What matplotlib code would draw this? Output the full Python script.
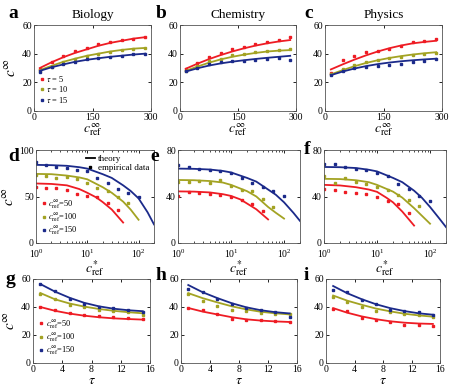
import numpy as np
import matplotlib
matplotlib.use("Agg")
import matplotlib.pyplot as plt
from matplotlib.lines import Line2D

plt.rcParams['font.family'] = ['Liberation Serif', 'DejaVu Serif']
plt.rcParams['mathtext.fontset'] = 'stix'

RED = '#ee1c24'
OLIVE = '#a3a323'
BLUE = '#1b2a8a'
colors = [RED, OLIVE, BLUE]

# %% row 1 data: c_inf vs c_ref_inf, tau = 5, 10, 15
cref = [15, 45, 75, 105, 135, 165, 195, 225, 255, 285]
taus = [5, 10, 15]

bio_pts = [[29, 34, 38.5, 42, 44, 46.5, 48, 49.5, 50.5, 51.5],
           [28, 31, 34, 36.5, 38.5, 40, 41.5, 42.5, 43.5, 44],
           [27, 31, 33, 34.5, 36, 37, 38, 38.5, 39.5, 40]]
bio_fit = [[30, 34, 37.5, 40.5, 43, 45.5, 47.5, 49, 50.5, 51.5],
           [28.5, 31.5, 34.3, 36.5, 38.5, 40, 41.5, 42.6, 43.5, 44],
           [28, 30.5, 32.5, 34.3, 35.7, 36.8, 37.8, 38.6, 39.4, 40]]

chem_pts = [[29.5, 33.5, 38, 40.7, 43, 44.8, 46.4, 48, 49.3, 51.4],
            [28, 31.5, 35, 36.5, 39, 40, 41, 42, 42.5, 43],
            [28, 30, 33, 34, 34.6, 35, 35.5, 36.6, 37, 35.5]]
chem_fit = [[29.5, 33, 36.2, 39, 41.5, 43.7, 45.6, 47.2, 48.5, 49.5],
            [28, 31, 33.7, 36, 37.8, 39.3, 40.5, 41.5, 42.1, 42.5],
            [27.5, 29.8, 31.7, 33.2, 34.4, 35.4, 36.3, 37.1, 37.8, 38.5]]

phys_pts = [[26.7, 35.8, 38.4, 41.2, 42, 43.6, 45.2, 48.2, 48.7, 50.1],
            [25.5, 29.5, 32, 34.5, 35.5, 37, 37.5, 39, 40, 40.5],
            [25, 28, 30, 31, 31.5, 32, 33, 34.5, 35, 36]]
phys_fit = [[29, 32.5, 35.8, 38.8, 41.5, 43.8, 45.7, 47.2, 48.2, 49],
            [25.5, 28.5, 31.2, 33.5, 35.4, 37, 38.3, 39.4, 40.3, 41],
            [25, 27.5, 29.6, 31.3, 32.7, 33.8, 34.7, 35.4, 36, 36.5]]

# %% row 2 data: c_inf vs c*_ref, c_ref_inf = 50, 100, 150
cstar = [1, 1.58, 2.51, 3.98, 6.31, 10, 15.8, 25.1, 39.8, 63.1, 100]
crefs = [50, 100, 150]
cstar_fit = [[1, 2, 4, 7, 10, 15, 20, 30, 50],
             [1, 2, 4, 7, 10, 20, 30, 50, 70, 100],
             [1, 2, 4, 7, 10, 20, 30, 50, 70, 100, 150, 200]]

bio2_pts = [[60.7, 59.6, 59, 57, 53, 51, 49, 43, 36],
            [73, 72.5, 70, 71.4, 68.6, 64.3, 59, 55.4, 49, 43],
            [87.5, 84, 81.4, 81, 79, 77, 70, 65, 58, 53.6, 49]]
bio2_fit = [[64, 63.5, 62, 58, 54, 49, 44, 36, 22],
            [74.3, 74, 72.5, 70.5, 68.5, 60, 54, 44.5, 36, 25],
            [84, 83.7, 83, 81.5, 80, 74, 70, 62, 56, 48, 33, 20]]

chem2_pts = [[40.4, 43.8, 43, 42.4, 41, 40, 37.3, 33.3, 27.4],
             [52.8, 52.3, 53, 51.4, 54.2, 48.9, 46, 45, 37.6, 31],
             [67, 65.8, 64, 63, 62, 60, 55.6, 51.7, 48, 44.4, 40.4]]
chem2_fit = [[44.4, 44.2, 43.5, 42, 40.5, 37.5, 34, 29, 20.3],
             [54.2, 54, 53.3, 52, 50, 44.6, 40, 31, 26, 21],
             [64, 63.8, 63.2, 62, 60.7, 56, 52.8, 46, 41.5, 35, 26, 19]]

phys2_pts = [[46.2, 45.6, 44.2, 42.7, 41.9, 39.5, 36.3, 33.4, 26.2],
             [58, 52, 55.8, 52.3, 50.6, 48, 45.6, 41.3, 37, 31.7],
             [68.3, 68, 65, 63.7, 63, 60.2, 57.3, 50.6, 46.5, 40.4, 36.3]]
phys2_fit = [[50, 49.5, 48, 46, 44, 39, 35, 27, 15],
             [55.2, 55, 54, 52.3, 50, 44.2, 39, 30, 23.5, 16.6],
             [65.4, 65.2, 64.5, 63, 61.6, 56, 52.3, 45, 39, 31, 21, 13.7]]

# %% row 3 data: c_inf vs tau, c_ref_inf = 50, 100, 150
tau = [1, 3, 5, 7, 9, 11, 13, 15]

bio3_pts = [[40.2, 38, 35.8, 34.4, 33.3, 32.8, 32, 31.4],
            [49.4, 45.5, 41.3, 39.7, 38, 37.4, 36.7, 34.5],
            [56.4, 51.3, 46, 42.5, 40.2, 39, 38, 36.7]]
bio3_fit = [[40, 37.3, 35.3, 33.8, 32.7, 31.9, 31.4, 31],
            [50, 45.5, 42.5, 40.3, 38.6, 37.3, 36.3, 35.5],
            [56.4, 51, 46.6, 43, 40.5, 38.8, 37.7, 37]]

chem3_pts = [[39.3, 38.2, 35, 31.6, 31, 30.4, 30, 29.3],
             [49, 44.5, 40.5, 37.7, 37, 35.8, 35, 34.7],
             [52.7, 51, 45.7, 42.2, 39.3, 38.2, 36.3, 32.8]]
chem3_fit = [[39.3, 36.7, 34.7, 32.7, 31.2, 30.3, 29.7, 29.3],
             [49.9, 46.3, 43.3, 40.5, 38.3, 36.6, 35.5, 34.7],
             [55.7, 50.5, 46.4, 42.7, 39.8, 37.7, 36.3, 35.4]]

phys3_pts = [[38.8, 36.9, 32.2, 31, 29, 27, 27, 26.7],
             [47.5, 43.3, 40, 36.9, 36.2, 35, 34, 32.6],
             [51.8, 50.4, 45.2, 42.3, 38, 36.9, 36.4, 34]]
phys3_fit = [[39.2, 35.9, 33.3, 31.3, 29.8, 28.8, 28.2, 27.9],
             [48.2, 44.5, 41.6, 38.9, 36.9, 35.2, 34, 33.1],
             [55, 49.8, 45.6, 42, 39.2, 37.1, 35.5, 34.5]]

titles = ['Biology', 'Chemistry', 'Physics']

# %% layout (figure fraction)
W, H = 474, 387
def box(l, r, t, b):
    return [l / W, 1 - b / H, (r - l) / W, (b - t) / H]

pos = [[box(34, 151, 25, 111), box(180, 296, 25, 111), box(325, 442, 25, 111)],
       [box(36, 154, 150, 243), box(178, 300, 150, 243), box(324, 446, 150, 243)],
       [box(33, 150, 279, 363), box(181, 297, 279, 363), box(326, 440, 279, 363)]]
letters = [['a', 'b', 'c'], ['d', 'e', 'f'], ['g', 'h', 'i']]
letter_xy = [[(8, 14), (156, 14), (304, 14)],
             [(8, 156), (150, 156), (304, 150)],
             [(6, 280), (156, 275), (304, 275)]]

fig = plt.figure(figsize=(W / 100, H / 100), dpi=100)

def style(ax):
    ax.tick_params(direction='in', top=True, right=True, labelsize=7,
                   length=2.5, width=0.6, pad=1.5)
    ax.tick_params(which='minor', direction='in', top=True, right=True,
                   length=1.5, width=0.5)
    for s in ax.spines.values():
        s.set_linewidth(0.6)
        s.set_color('#555555')

MS = 1.6
LEG = dict(frameon=False, fontsize=6, handlelength=0.5, handletextpad=0.3,
           labelspacing=0.1, borderaxespad=0.3)

row1 = [(bio_pts, bio_fit), (chem_pts, chem_fit), (phys_pts, phys_fit)]
row2 = [(bio2_pts, bio2_fit), (chem2_pts, chem2_fit), (phys2_pts, phys2_fit)]
row3 = [(bio3_pts, bio3_fit), (chem3_pts, chem3_fit), (phys3_pts, phys3_fit)]
ymax2 = [100, 80, 80]

for j in range(3):
    # row 1
    ax = fig.add_axes(pos[0][j])
    pts, fit = row1[j]
    for k in range(3):
        ax.plot(cref, fit[k], color=colors[k], lw=1.3)
        ax.plot(cref, pts[k], 's', color=colors[k], ms=MS,
                label=r'$\tau$ = %d' % taus[k])
    ax.set_xlim(0, 300)
    ax.set_ylim(0, 60)
    ax.set_xticks([0, 150, 300])
    ax.set_yticks([0, 20, 40, 60])
    style(ax)
    ax.set_title(titles[j], fontsize=9.5, pad=5)
    ax.set_xlabel(r'$c^{\infty}_{\mathrm{ref}}$', fontsize=10, labelpad=-1)
    if j == 0:
        ax.set_ylabel(r'$c^{\infty}$', fontsize=11, labelpad=2)
        ax.legend(loc='lower left', **LEG)

    # row 2
    ax = fig.add_axes(pos[1][j])
    pts, fit = row2[j]
    for k in range(3):
        ax.plot(cstar_fit[k], fit[k], color=colors[k], lw=1.3)
        ax.plot(cstar[:len(pts[k])], pts[k], 's', color=colors[k], ms=MS,
                label=r'$c^{\infty}_{\mathrm{ref}}$=%d' % crefs[k])
    ax.set_xscale('log')
    ax.set_xlim(1, 200)
    ax.set_ylim(0, ymax2[j])
    ax.set_yticks([0, ymax2[j] / 2, ymax2[j]])
    style(ax)
    ax.tick_params(axis='x', pad=3)
    ax.set_xlabel(r'$c^{*}_{\mathrm{ref}}$', fontsize=10, labelpad=-1)
    if j == 0:
        ax.set_ylabel(r'$c^{\infty}$', fontsize=11, labelpad=2)
        leg = ax.legend(loc='lower left', **LEG)
        ax.add_artist(leg)
        handles = [Line2D([], [], color='black', lw=1.3),
                   Line2D([], [], color='black', ls='none', marker='s', ms=MS)]
        ax.legend(handles, ['theory', 'empirical data'], loc='upper right',
                  frameon=False, fontsize=6.5, handlelength=0.9,
                  handletextpad=0.4, labelspacing=0.1, borderaxespad=0.1)

    # row 3
    ax = fig.add_axes(pos[2][j])
    pts, fit = row3[j]
    for k in range(3):
        ax.plot(tau, fit[k], color=colors[k], lw=1.3)
        ax.plot(tau, pts[k], 's', color=colors[k], ms=MS,
                label=r'$c^{\infty}_{\mathrm{ref}}$=%d' % crefs[k])
    ax.set_xlim(0, 16)
    ax.set_ylim(0, 60)
    ax.set_xticks([0, 4, 8, 12, 16])
    ax.set_yticks([0, 20, 40, 60])
    style(ax)
    ax.set_xlabel(r'$\tau$', fontsize=10, labelpad=0)
    if j == 0:
        ax.set_ylabel(r'$c^{\infty}$', fontsize=11, labelpad=2)
        ax.legend(loc='lower left', **LEG)

for r in range(3):
    for j in range(3):
        x, y = letter_xy[r][j]
        fig.text(x / W, 1 - y / H, letters[r][j], fontsize=14, fontweight='bold',
                 va='center', ha='left')

fig.savefig('out.png', dpi=100)
